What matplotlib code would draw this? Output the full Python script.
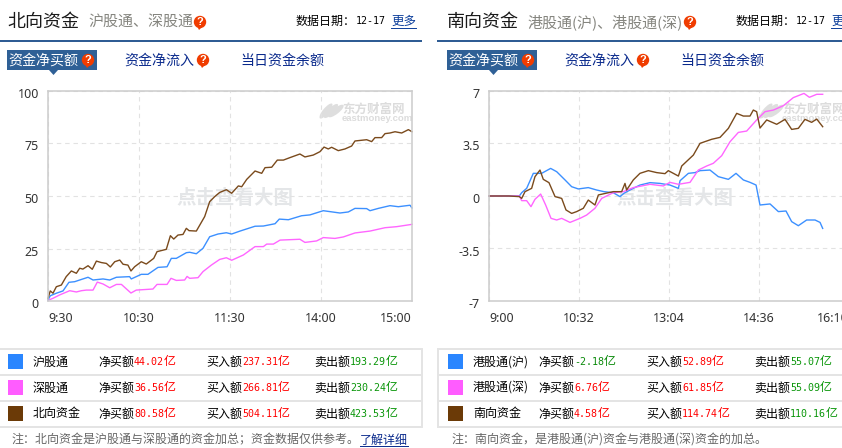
import matplotlib
matplotlib.use('Agg')
import matplotlib.pyplot as plt
from matplotlib.patches import Rectangle, Circle, Polygon, Ellipse
from matplotlib.transforms import ScaledTranslation

CJK = ['Noto Sans CJK SC', 'DejaVu Sans']
plt.rcParams['font.family'] = CJK

# ---------- north-bound data (minutes after 9:30 in trading time, 100m yuan) ----------
north_sh_t = [0,1.5,5.5,9.9,13.8,17.6,20.9,26.4,29.7,36.3,40.7,45.1,53.8,54.9,61.5,65.9,72.5,78.5,81.3,84.6,91.2,93.4,97.8,102.2,106.6,112.1,117.6,121.1,126.6,136.5,142,149.7,152.5,158.5,167.2,172.7,181.5,192.5,198,202.4,210.1,212.3,217.8,225.5,231,238.7,240]
north_sh_v = [0.5,2.5,3.7,4.8,8.9,9.2,10,11.3,10,10.5,10,11.3,11.6,10.5,12.7,12.7,16,16.3,20.3,20.3,23,23.2,22.5,25.1,30.6,31.9,32.5,31.9,33.3,35.6,35.7,36.8,39,38.7,40.6,41,43,41.9,42.4,44.1,44,43,44.1,45.4,44.9,45.6,44.3]
north_sz_t = [0,3.3,7.7,14.3,18.7,22,25.3,29.7,32.5,36.3,40.7,45.1,48.4,54.7,58.2,69.2,71.9,78.5,81.1,84.6,90.1,91.7,93.4,98.9,102.2,107.7,113.2,117.6,121.1,128.8,136.5,142,144.2,148.6,153,166.1,169.4,177.1,181.5,189.2,194.7,202.4,212.3,222.2,229.9,240]
north_sz_v = [0.3,1.3,2.9,4.9,4.3,4.9,5.2,5.2,9,8.1,6.3,7.9,7.9,3.8,5.2,5.7,7.9,7.9,10.8,9.8,10,11.7,10.8,11.1,14,17.1,19.8,20.6,19.4,21.9,25.9,25.9,27.1,27.1,29,29.4,27.9,28.6,30.2,29.8,30.5,32.4,33.3,34.9,35.4,36.5]
north_all_t = [0,1.5,3.3,5.5,8.8,12,15.4,18.7,20.9,23,26.4,29.2,31.9,35.2,38.5,41.1,44,47.3,49.5,52.7,54.7,57.1,61.5,64.8,69.7,71.9,78,80.7,82.9,85.7,89,91.2,93,97.8,103.3,106.6,109.9,113.2,117.6,121.1,125.5,127.7,131,136.5,140.9,143.1,147.5,151.2,155.2,159.6,166.1,169.4,174.9,179.3,182,184.8,187,191.4,195.8,200.2,202.4,210.1,213.4,215.6,220,222.2,225.5,228.8,233.2,237.6,240]
north_all_v = [1.3,4.8,3.7,6.8,7.6,11.6,14.3,13.2,15.6,15.2,16.8,15.1,19,18.3,17.9,16.2,18.7,19.5,17.5,17.1,14.3,16.3,18.7,17.6,20.3,23.5,24.6,31.1,29.5,31.4,31.7,34.6,33.5,33.3,40.2,47.3,49.7,51.7,53,51.3,54.8,54.4,57.9,61.9,60.8,63.5,63.7,67.1,67.1,68.3,70,68.6,69.5,71.1,73.3,72.4,73.2,71.6,72.4,73.8,76.2,76.8,75.9,77.8,77.8,79.7,80,80.6,80,81.6,80.6]

# ---------- south-bound data (minutes after 9:00 in trading time, 100m yuan) ----------
south_sh_t = [0,31,33.4,38.5,45.3,53.8,63,69.2,77.7,84.5,91.3,101.5,110,117.5,127,133.9,137.9,144.1,154.3,164.6,174.8,185,193.6,195.3,203.8,210.6,215.7,225.9,234.4,244.7,252.5,260,266.8,273,277,287.3,295.8,303.6,309.4,316.2,324.7,333.3,338.4,341.1]
south_sh_v = [0,0,0.22,0.51,1.51,1.51,1.84,1.62,1.07,0.62,0.47,0.56,0.4,0.29,0.22,-0.04,0.18,0.4,0.73,0.89,0.84,0.73,0.51,1.02,1.51,1.56,1.69,1.73,1.29,1.11,1.51,1.07,0.91,0.73,-0.6,-0.53,-1.04,-1,-1.71,-1.98,-1.6,-1.6,-1.76,-2.16]
south_sz_t = [0,31,33.4,38.5,42.9,47,52.8,57.9,63.4,69.2,74.3,82.8,93,99.8,108.3,115.2,127,137.3,147.5,164.6,178.2,185,193.6,205.5,214,222.5,229.3,237.9,246.4,254.9,263.4,273.6,282.1,290.7,300.9,311.1,322,327.5,335,341.1]
south_sz_v = [0,0,-0.31,-0.31,-0.71,-0.22,0.13,-0.6,-1.49,-1.6,-1.49,-1.76,-1.49,-1.27,-0.82,-0.16,0.22,0.29,0.56,0.78,0.67,0.91,0.78,0.91,1.73,2,2.18,2.69,3.62,4.24,4.33,5.07,5.62,5.73,6.02,6.56,6.84,6.58,6.78,6.78]
south_all_t = [0,20.4,31,33.4,36.8,43.6,47,52.1,55.5,61.3,67.5,74.3,78.7,84.5,89.6,96.4,101.5,108.3,111.8,127,135.6,139,140.7,147.5,154.3,162.9,171.4,179.9,183.3,193.6,197,208.9,215.7,227.6,236.2,244.7,253.2,260,266.8,270.2,273.6,277,283.9,294.1,302.6,309.4,316.2,323,329.8,335,341.1]
south_all_v = [0,0,-0.04,-0.16,0.29,0.51,1.29,1.73,1.11,0.89,-0.04,-0.16,-0.93,-1.16,-1.04,-0.82,-0.27,-0.6,0.07,0.29,0.29,0.84,0.4,1.07,1.51,1.69,1.56,1.49,1.69,1.33,2,2.73,3.51,3.78,3.91,4.51,5.51,5.33,5.33,5.73,5.62,4.53,5.07,4.78,5.11,4.44,4.51,5.11,4.91,5.13,4.62]

north_xticks = [0, 60, 120, 180, 240]
north_xlabels = ['9:30', '10:30', '11:30', '14:00', '15:00']
north_yticks = [0, 25, 50, 75, 100]
north_ylabels = ['0', '25', '50', '75', '100']
south_xticks = [0, 92, 184, 276, 368]
south_xlabels = ['9:00', '10:32', '13:04', '14:36', '16:10']
south_yticks = [-7, -3.5, 0, 3.5, 7]
south_ylabels = ['-7', '-3.5', '0', '3.5', '7']

north_names = ['沪股通', '深股通', '北向资金']
north_net = ['44.02', '36.56', '80.58']
north_buy = ['237.31', '266.81', '504.11']
north_sell = ['193.29', '230.24', '423.53']
south_names = ['港股通(沪)', '港股通(深)', '南向资金']
south_net = ['-2.18', '6.76', '4.58']
south_buy = ['52.89', '61.85', '114.74']
south_sell = ['55.07', '55.09', '110.16']

BLUE, PINK, BROWN = '#3c90ff', '#ff66ff', '#7a4a1c'
SWATCH = ['#2a86ff', '#ff5cff', '#6b3a07']
W, H = 842, 448
px = 0.72
MONO = 'DejaVu Sans Mono'

fig = plt.figure(figsize=(W / 100, H / 100), dpi=100, facecolor='white')
pg = fig.add_axes([0, 0, 1, 1], zorder=0)
pg.set_xlim(0, W); pg.set_ylim(H, 0); pg.axis('off')


def txt(x, y, s, size=12, color='#000000', ha='left', **kw):
    kw.setdefault('family', CJK)
    return pg.text(x, y, s, fontsize=size * px, color=color, ha=ha, va='center', **kw)


def qmark(x, y):
    pg.add_patch(Circle((x, y), 6.2, color='#f03c00', lw=0))
    pg.add_patch(Polygon([(x - 3, y + 4), (x + 2, y + 5), (x - 1, y + 8)], color='#f03c00', lw=0))
    pg.text(x, y - 0.3, '?', color='white', fontsize=11 * px, fontweight='bold', ha='center',
            va='center', family='Liberation Sans')


def num(x, y, s, color):
    pg.text(x, y, s, fontsize=10 * px, color=color, ha='left', va='center', family=MONO)
    txt(x + len(s) * 6, y, '亿', color=color)


def panel(dx, title, sub, sub_x, icon_x, rule_x0, rule_x1, names, net, buy, sell, offs, name_x):
    txt(dx + 7, 22, title, size=18, color='#1a1a1a')
    txt(sub_x, 22, sub, size=15, color='#85857f')
    qmark(icon_x, 22)
    txt(dx + 296, 21, '数据日期\uff1a', size=12)
    pg.text(dx + 356, 21, '12-17', fontsize=10 * px, family=MONO, va='center')
    txt(dx + 391, 21, '更多', size=12.5, color='#0b3d9a')
    pg.plot([dx + 391, dx + 416], [28, 28], color='#0b3d9a', lw=0.7)
    pg.add_patch(Rectangle((rule_x0, 40), rule_x1 - rule_x0, 2, color='#2f5c94', lw=0))
    # tabs
    pg.add_patch(Rectangle((dx + 7, 50), 90, 20, color='#2f6096', lw=0))
    pg.add_patch(Polygon([(dx + 49, 70), (dx + 58, 70), (dx + 53.5, 75)], color='#2f6096', lw=0))
    txt(dx + 8, 60.5, '资金净买额', size=14, color='white')
    qmark(dx + 88, 60)
    txt(dx + 124, 60.5, '资金净流入', size=14, color='#0a2a8c')
    qmark(dx + 203, 60)
    txt(dx + 240, 60.5, '当日资金余额', size=14, color='#0a2a8c')
    # table
    for i, (n, a, b, c) in enumerate(zip(names, net, buy, sell)):
        yc = 362 + i * 26
        pg.add_patch(Rectangle((offs + 8, yc - 7.5), 15, 15, color=SWATCH[i], lw=0))
        txt(name_x, yc, n, size=12)
        txt(dx + 98, yc, '净买额')
        num(dx + 134, yc, a, '#0a8a0a' if a.startswith('-') else '#ff0000')
        txt(dx + 206, yc, '买入额')
        num(dx + 242, yc, b, '#ff0000')
        txt(dx + 314, yc, '卖出额')
        num(dx + 350, yc, c, '#0a960a')


panel(0, '北向资金', '沪股通、深股通', 88, 200, 0, 422, north_names, north_net, north_buy, north_sell, 0, 33)
panel(440, '南向资金', '港股通(沪)、港股通(深)', 528, 690, 437, 842, south_names, south_net, south_buy, south_sell, 440, 473)

for y in [349.5, 375.5, 401.5, 427.5]:
    pg.plot([0, 421], [y, y], color='#e4e4e4', lw=1.4)
    pg.plot([437.5, 842], [y, y], color='#e4e4e4', lw=1.4)
pg.plot([421.5, 421.5], [349.5, 427.5], color='#e4e4e4', lw=1.4)
pg.plot([437.5, 437.5], [349.5, 427.5], color='#e4e4e4', lw=1.4)

txt(12, 440, '注\uff1a北向资金是沪股通与深股通的资金加总\uff1b资金数据仅供参考。', color='#666666')
txt(360, 440, '了解详细', color='#0a2a8c')
pg.plot([360, 408], [446.5, 446.5], color='#0a2a8c', lw=0.7)
txt(452, 440, '注\uff1a南向资金\uff0c是港股通(沪)资金与港股通(深)资金的加总。', color='#666666')

# watermarks
for dx in (0, 440):
    txt(235 + dx, 198, '点击查看大图', size=19.5, color='#e4e6e8', ha='center', fontweight='bold')
    txt(342 + dx, 109, '东方财富网', size=12.5, color='#dcdcdc', fontweight='bold')
    pg.text(342 + dx, 118.5, 'eastmoney.com', fontsize=9.5 * px, color='#dcdcdc', fontweight='bold',
            family='Liberation Sans', va='center')
    for off, ang in ((0, 60), (5, 65), (10, 72)):
        pg.add_patch(Ellipse((326 + off + dx, 111), 6, 19, angle=ang - 20, color='#dedede', lw=0))


def chart(x0, x1, xlim, ylim, xt, xl, yt, yl, series):
    ax = fig.add_axes([x0 / W, 1 - 301 / H, (x1 - x0) / W, 210 / H], zorder=2)
    ax.patch.set_alpha(0)
    ax.set_xlim(*xlim); ax.set_ylim(*ylim)
    ax.set_xticks(xt); ax.set_xticklabels(xl)
    ax.set_yticks(yt); ax.set_yticklabels(yl)
    ax.grid(True, color='#e2e2e2', lw=0.8, ls=(0, (4, 3.5)))
    ax.set_axisbelow(True)
    ax.tick_params(axis='x', length=0, pad=8, labelsize=12.5 * px, labelcolor='#333333')
    ax.tick_params(axis='y', length=0, pad=6.5, labelsize=12.5 * px, labelcolor='#333333')
    down = ScaledTranslation(0, -2 / 100, fig.dpi_scale_trans)
    for lab in ax.get_xticklabels() + ax.get_yticklabels():
        lab.set_family('Noto Sans')
    for lab in ax.get_yticklabels():
        lab.set_transform(lab.get_transform() + down)
    labs = ax.get_xticklabels()
    labs[0].set_ha('left'); labs[-1].set_ha('right')
    for s in ax.spines.values():
        s.set_color('#cccccc'); s.set_linewidth(1.1)
    for (t, v, c) in series:
        ax.plot(t, v, color=c, lw=1.0, solid_joinstyle='round', clip_on=False)
    return ax


chart(48, 412, (0, 240), (0, 100), north_xticks, north_xlabels, north_yticks, north_ylabels,
      [(north_sz_t, north_sz_v, PINK), (north_sh_t, north_sh_v, BLUE), (north_all_t, north_all_v, BROWN)])
chart(489, 849, (0, 368), (-7, 7), south_xticks, south_xlabels, south_yticks, south_ylabels,
      [(south_sh_t, south_sh_v, BLUE), (south_sz_t, south_sz_v, PINK), (south_all_t, south_all_v, BROWN)])

fig.savefig('out.png', dpi=100)
